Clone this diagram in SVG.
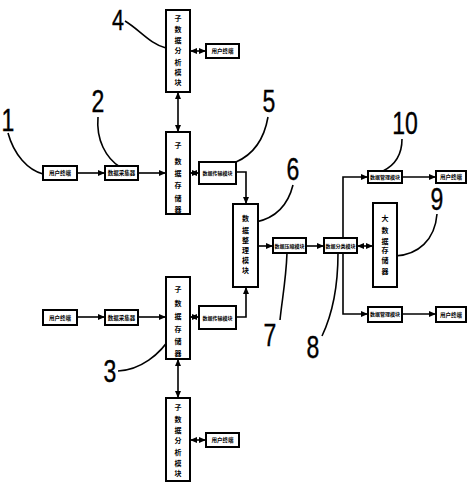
<svg xmlns="http://www.w3.org/2000/svg" width="474" height="484" viewBox="0 0 474 484">
<style>
.box{fill:#fff;stroke:#000;stroke-width:2}
.ln{fill:none;stroke:#000;stroke-width:1.6}
.ld{fill:none;stroke:#000;stroke-width:1.6}
.sm{font-family:"Noto Sans CJK SC",sans-serif;font-size:5.5px;font-weight:bold;text-anchor:middle}
.s6{font-size:5px}
.vt{font-family:"Noto Sans CJK SC",sans-serif;font-size:7px;font-weight:bold;text-anchor:middle}
.num{font-family:"Liberation Sans",sans-serif;font-size:32px;text-anchor:middle;stroke:#000;stroke-width:0.4}
</style>
<defs>
<marker id="a" markerUnits="userSpaceOnUse" markerWidth="7" markerHeight="6" refX="7" refY="3" orient="auto-start-reverse"><path d="M0,0 L7,3 L0,6 z" fill="#000"/></marker>
</defs>
<rect width="474" height="484" fill="#fff"/>
<g id="connectors">
<line class="ln" x1="77" y1="173" x2="105" y2="173" marker-end="url(#a)"/>
<line class="ln" x1="138" y1="173" x2="166" y2="173" marker-end="url(#a)"/>
<line class="ln" x1="190" y1="173" x2="199" y2="173" marker-start="url(#a)" marker-end="url(#a)"/>
<line class="ln" x1="178" y1="92" x2="178" y2="132" marker-start="url(#a)" marker-end="url(#a)"/>
<line class="ln" x1="190" y1="51" x2="206" y2="51" marker-start="url(#a)" marker-end="url(#a)"/>
<path class="ln" d="M236,172 H246 V204" marker-end="url(#a)"/>
<path class="ln" d="M236,317 H246 V287" marker-end="url(#a)"/>
<line class="ln" x1="77" y1="317" x2="105" y2="317" marker-end="url(#a)"/>
<line class="ln" x1="138" y1="317" x2="166" y2="317" marker-end="url(#a)"/>
<line class="ln" x1="190" y1="317" x2="199" y2="317" marker-start="url(#a)" marker-end="url(#a)"/>
<line class="ln" x1="178" y1="359" x2="178" y2="398" marker-start="url(#a)" marker-end="url(#a)"/>
<line class="ln" x1="190" y1="440" x2="206" y2="440" marker-start="url(#a)" marker-end="url(#a)"/>
<line class="ln" x1="258" y1="246" x2="273" y2="246" marker-end="url(#a)"/>
<line class="ln" x1="306" y1="246" x2="324" y2="246" marker-end="url(#a)"/>
<line class="ln" x1="357" y1="246" x2="373" y2="246" marker-start="url(#a)" marker-end="url(#a)"/>
<path class="ln" d="M343,238 V177 H368" marker-end="url(#a)"/>
<path class="ln" d="M343,253 V314 H368" marker-end="url(#a)"/>
<line class="ln" x1="402" y1="177" x2="436" y2="177" marker-end="url(#a)"/>
<line class="ln" x1="402" y1="314" x2="436" y2="314" marker-end="url(#a)"/>
</g>
<g id="leaders">
<path class="ld" d="M8,133 C14,155 28,170 43,174"/>
<path class="ld" d="M98,117 C96,140 106,158 120,167"/>
<path class="ld" d="M125,21 C140,30 150,44 166,48"/>
<path class="ld" d="M268,117 C264,140 252,155 236,162"/>
<path class="ld" d="M293,185 C288,205 275,218 256,222"/>
<path class="ld" d="M287,253 C286,280 282,300 280,320"/>
<path class="ld" d="M338,253 C338,285 332,315 322,336"/>
<path class="ld" d="M437,214 C435,240 418,255 395,256"/>
<path class="ld" d="M402,139 C402,155 395,165 383,171"/>
<path class="ld" d="M118,371 C140,370 160,355 172,335"/>
</g>
<g id="labels">
<text class="num" transform="translate(8,131) scale(0.72,1)">1</text>
<text class="num" transform="translate(98,112) scale(0.72,1)">2</text>
<text class="num" transform="translate(110,382) scale(0.72,1)">3</text>
<text class="num" transform="translate(118,30) scale(0.72,1)" style="font-size:30px">4</text>
<text class="num" transform="translate(269,112) scale(0.72,1)">5</text>
<text class="num" transform="translate(293,180) scale(0.72,1)">6</text>
<text class="num" transform="translate(270,346) scale(0.72,1)">7</text>
<text class="num" transform="translate(313,358) scale(0.72,1)">8</text>
<text class="num" transform="translate(437,210) scale(0.72,1)">9</text>
<text class="num" transform="translate(405,134) scale(0.72,1)">10</text>
</g>
<g id="n4"><rect class="box" x="166" y="10" width="24" height="82"/>
<text class="vt" x="178"><tspan x="178" y="21">子</tspan><tspan x="178" y="32">数</tspan><tspan x="178" y="43">据</tspan><tspan x="178" y="53">分</tspan><tspan x="178" y="65">析</tspan><tspan x="178" y="75">模</tspan><tspan x="178" y="85">块</tspan></text></g>
<g id="t1"><rect class="box" x="206" y="44" width="33" height="14"/><text class="sm" x="222.5" y="53">用户终端</text></g>
<g id="u1"><rect class="box" x="43" y="166" width="34" height="14"/><text class="sm" x="60" y="175">用户终端</text></g>
<g id="c1"><rect class="box" x="105" y="166" width="33" height="14"/><text class="sm" x="121.5" y="175">数据采集器</text></g>
<g id="m1"><rect class="box" x="166" y="132" width="24" height="82"/>
<text class="vt"><tspan x="178" y="148">子</tspan><tspan x="178" y="164">数</tspan><tspan x="178" y="176">据</tspan><tspan x="178" y="188">存</tspan><tspan x="178" y="201">储</tspan><tspan x="178" y="212">器</tspan></text></g>
<g id="n5"><rect class="box" x="199" y="162" width="37" height="22"/><text class="sm s6" x="217.5" y="174.5">数据传输模块</text></g>
<g id="n6"><rect class="box" x="233" y="204" width="25" height="83"/>
<text class="vt"><tspan x="245.5" y="221">数</tspan><tspan x="245.5" y="233">据</tspan><tspan x="245.5" y="243">整</tspan><tspan x="245.5" y="253">理</tspan><tspan x="245.5" y="263">模</tspan><tspan x="245.5" y="273">块</tspan></text></g>
<g id="n7"><rect class="box" x="273" y="238" width="33" height="15"/><text class="sm s6" x="289.5" y="247.5">数据压缩模块</text></g>
<g id="n8"><rect class="box" x="324" y="238" width="33" height="15"/><text class="sm s6" x="340.5" y="247.5">数据分类模块</text></g>
<g id="n9"><rect class="box" x="373" y="203" width="24" height="84"/>
<text class="vt"><tspan x="385" y="221">大</tspan><tspan x="385" y="233">数</tspan><tspan x="385" y="244">据</tspan><tspan x="385" y="253">存</tspan><tspan x="385" y="263">储</tspan><tspan x="385" y="274">器</tspan></text></g>
<g id="n10"><rect class="box" x="368" y="171" width="34" height="12"/><text class="sm s6" x="385" y="179">数据管理模块</text></g>
<g id="t10"><rect class="box" x="436" y="171" width="30" height="12"/><text class="sm" x="451" y="179">用户终端</text></g>
<g id="n11"><rect class="box" x="368" y="307" width="34" height="15"/><text class="sm s6" x="385" y="316">数据管理模块</text></g>
<g id="t11"><rect class="box" x="436" y="307" width="30" height="15"/><text class="sm" x="451" y="316.5">用户终端</text></g>
<g id="u2"><rect class="box" x="43" y="310" width="34" height="15"/><text class="sm" x="60" y="319.5">用户终端</text></g>
<g id="c2"><rect class="box" x="105" y="310" width="33" height="15"/><text class="sm" x="121.5" y="319.5">数据采集器</text></g>
<g id="n3"><rect class="box" x="166" y="277" width="24" height="82"/>
<text class="vt"><tspan x="178" y="292">子</tspan><tspan x="178" y="306">数</tspan><tspan x="178" y="319">据</tspan><tspan x="178" y="332">存</tspan><tspan x="178" y="344">储</tspan><tspan x="178" y="356">器</tspan></text></g>
<g id="n5b"><rect class="box" x="199" y="306" width="37" height="23"/><text class="sm s6" x="217.5" y="319.5">数据传输模块</text></g>
<g id="n4b"><rect class="box" x="166" y="398" width="24" height="83"/>
<text class="vt"><tspan x="178" y="410">子</tspan><tspan x="178" y="422">数</tspan><tspan x="178" y="433">据</tspan><tspan x="178" y="443">分</tspan><tspan x="178" y="455">析</tspan><tspan x="178" y="466">模</tspan><tspan x="178" y="476">块</tspan></text></g>
<g id="tb"><rect class="box" x="206" y="433" width="33" height="14"/><text class="sm" x="222.5" y="442">用户终端</text></g>
</svg>
